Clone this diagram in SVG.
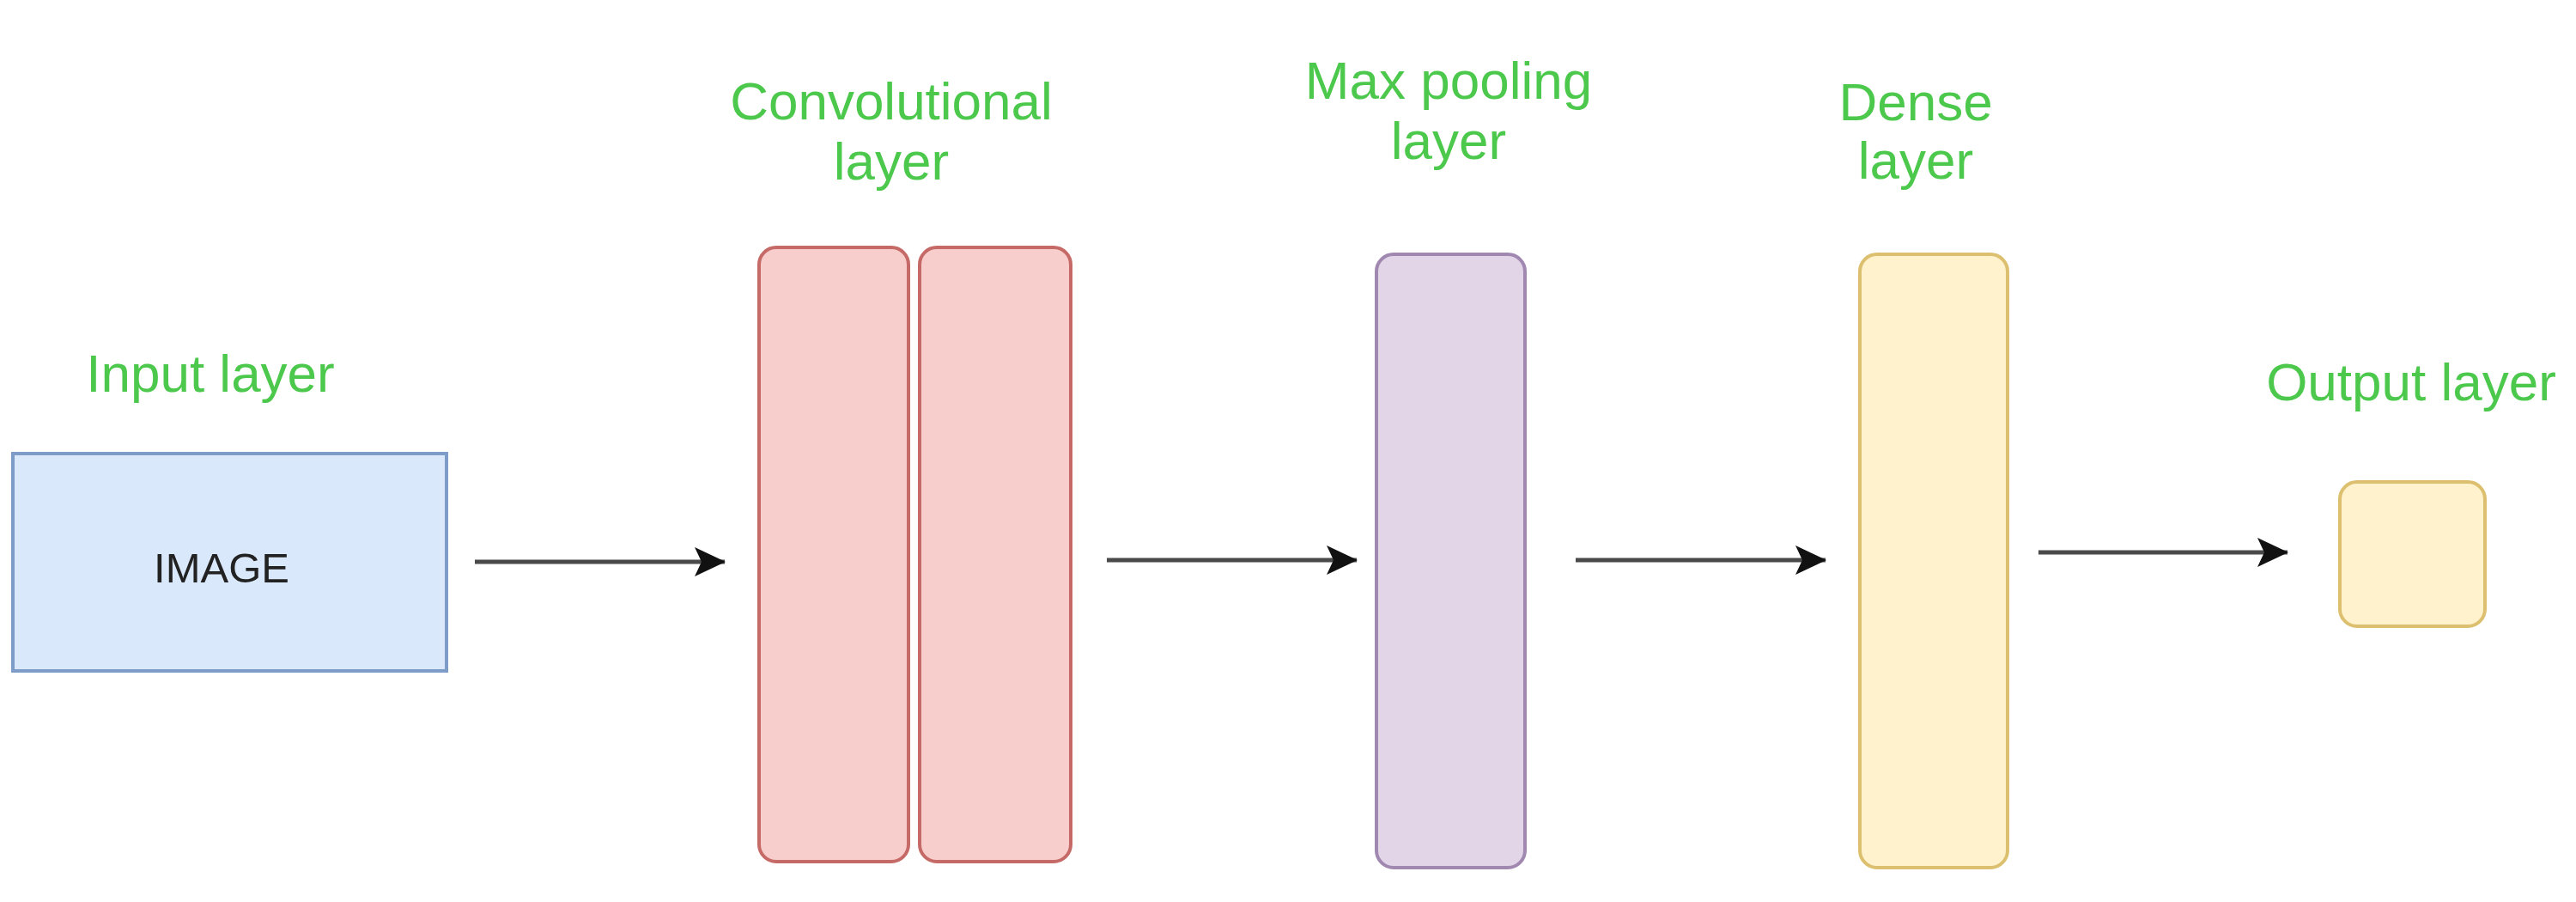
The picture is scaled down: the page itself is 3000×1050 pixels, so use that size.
<svg xmlns="http://www.w3.org/2000/svg" width="3000" height="1050" viewBox="0 0 3000 1050">
<style>
.lbl{font-family:"Liberation Sans",Arial,Helvetica,sans-serif;font-size:62px;fill:#4cc94c;text-anchor:middle}
.txt{font-family:"Liberation Sans",Arial,Helvetica,sans-serif;font-size:49px;fill:#222;text-anchor:middle}
.blue{fill:#dae8fc;stroke:#7d9cc8;stroke-width:4}
.red{fill:#f8cecc;stroke:#c56a66;stroke-width:4}
.purple{fill:#e1d5e7;stroke:#a088b0;stroke-width:4}
.yellow{fill:#fff2cc;stroke:#dcc070;stroke-width:4}
.edge{stroke:#4a4a4a;stroke-width:5;fill:none;marker-end:url(#arrow)}
</style>
<defs>
<marker id="arrow" markerUnits="userSpaceOnUse" markerWidth="36" markerHeight="34" viewBox="0 0 36 34" refX="35" refY="17" orient="auto">
<path d="M0,0 L36,17 L0,34 L8,17 Z" fill="#111"/>
</marker>
</defs>
<rect width="3000" height="1050" fill="#ffffff"/>
<g id="input-layer">
<text class="lbl" x="245" y="456">Input layer</text>
<rect class="blue" x="15" y="528" width="505" height="253"/>
<text class="txt" x="258" y="678">IMAGE</text>
</g>
<g id="conv-layer">
<text class="lbl" x="1038" y="139">Convolutional</text>
<text class="lbl" x="1038" y="209">layer</text>
<rect class="red" x="884" y="288" width="174" height="715" rx="20" ry="20"/>
<rect class="red" x="1071" y="288" width="176" height="715" rx="20" ry="20"/>
</g>
<g id="maxpool-layer">
<text class="lbl" x="1687" y="115">Max pooling</text>
<text class="lbl" x="1687" y="185">layer</text>
<rect class="purple" x="1603" y="296" width="173" height="714" rx="20" ry="20"/>
</g>
<g id="dense-layer">
<text class="lbl" x="2231" y="140">Dense</text>
<text class="lbl" x="2231" y="208">layer</text>
<rect class="yellow" x="2166" y="296" width="172" height="714" rx="20" ry="20"/>
</g>
<g id="output-layer">
<text class="lbl" x="2808" y="466">Output layer</text>
<rect class="yellow" x="2725" y="561" width="169" height="168" rx="20" ry="20"/>
</g>
<g id="connectors">
<line class="edge" x1="553" y1="654" x2="844" y2="654"/>
<line class="edge" x1="1289" y1="652" x2="1580" y2="652"/>
<line class="edge" x1="1835" y1="652" x2="2126" y2="652"/>
<line class="edge" x1="2374" y1="643" x2="2664" y2="643"/>
</g>
</svg>
